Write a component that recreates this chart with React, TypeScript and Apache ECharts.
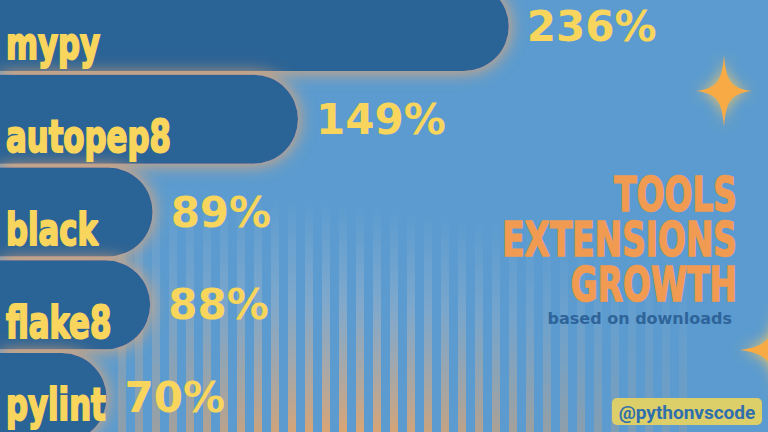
import React, { useEffect, useRef } from "react";
import * as echarts from "echarts";

const categories = ["mypy", "autopep8", "black", "flake8", "pylint"];
const growth = [236, 149, 89, 88, 70];
const titleLines = ["TOOLS", "EXTENSIONS", "GROWTH"];
const subtitle = "based on downloads";
const handle = "@pythonvscode";

const X_MIN = 26;
const X_MAX = 343;

const BG = "#5b9bcf";
const BAR = "#2b6496";
const YELLOW = "#f8d55c";
const ORANGE = "#f09a52";
const COND = "'DejaVu Sans Condensed', 'DejaVu Sans', sans-serif";

const STAR_D =
  "M0,-1 C0.08,-0.25 0.25,-0.08 1,0 C0.25,0.08 0.08,0.25 0,1 C-0.08,0.25 -0.25,0.08 -1,0 C-0.25,-0.08 -0.08,-0.25 0,-1 Z";

let registered = false;

export default function App() {
  const ref = useRef<HTMLDivElement>(null);
  useEffect(() => {
    if (!ref.current) return;
    if (!registered) {
      echarts.graphic.registerShape("sparkle", echarts.graphic.extendPath(STAR_D, {}));
      registered = true;
    }
    const chart = echarts.init(ref.current, null, { renderer: "svg" });

    const stripes: any[] = [];
    for (let x = 118; x < 690; x += 17) {
      const k = Math.exp(-Math.pow((x - 340) / 210, 2));
      const y0 = 175 + (x - 118) * 0.12;
      stripes.push({
        type: "rect",
        z: 0,
        silent: true,
        shape: { x, y: y0, width: 8, height: 432 - y0 },
        style: {
          fill: new echarts.graphic.LinearGradient(0, 0, 0, 1, [
            { offset: 0, color: "rgba(150,185,215,0)" },
            { offset: 0.45, color: `rgba(160,180,200,${0.45 * k + 0.1})` },
            { offset: 1, color: `rgba(226,165,110,${0.85 * k + 0.1})` },
          ]),
        },
      });
    }

    const titleGraphics = titleLines.map((t, i) => ({
      type: "text",
      z: 20,
      x: 737,
      y: 194 + i * 45,
      scaleX: 0.76,
      style: {
        text: t,
        fill: ORANGE,
        stroke: ORANGE,
        lineWidth: 1.5,
        font: `bold 48px ${COND}`,
        align: "right",
        verticalAlign: "middle",
        shadowColor: "rgba(0,0,0,0.2)",
        shadowBlur: 3,
      },
    }));

    chart.setOption({
      animation: false,
      backgroundColor: BG,
      grid: {
        left: 0,
        right: 0,
        top: -20,
        bottom: -12,
        containLabel: false,
        outerBoundsMode: "none",
      },
      xAxis: { type: "value", min: X_MIN, max: X_MAX, show: false },
      yAxis: {
        type: "category",
        data: categories,
        inverse: true,
        axisLine: { show: false },
        axisTick: { show: false },
        splitLine: { show: false },
        axisLabel: { show: false },
      },
      series: [
        {
          type: "bar",
          data: growth,
          barWidth: 89,
          z: 5,
          itemStyle: {
            color: BAR,
            borderRadius: [0, 45, 45, 0],
            shadowColor: "rgba(242,168,105,1)",
            shadowBlur: 18,
          },
          label: {
            show: true,
            position: "right",
            distance: 18,
            formatter: "{c}%",
            color: YELLOW,
            fontFamily: "'DejaVu Sans', sans-serif",
            fontWeight: "bold",
            fontSize: 42,
          },
        },
        {
          type: "custom",
          z: 10,
          silent: true,
          data: categories.map((c) => [X_MIN, c]),
          encode: { x: 0, y: 1 },
          renderItem: (params: any, api: any) => {
            const pt = api.coord([api.value(0), api.value(1)]);
            return {
              type: "text",
              x: pt[0] + 6,
              y: Math.min(pt[1] + 17, 404),
              scaleX: 0.76,
              style: {
                text: categories[params.dataIndex],
                fill: YELLOW,
                stroke: YELLOW,
                lineWidth: 2,
                font: `bold 45px ${COND}`,
                align: "left",
                verticalAlign: "middle",
                shadowColor: "rgba(0,0,0,0.4)",
                shadowBlur: 4,
                shadowOffsetY: 2,
              },
            };
          },
        },
      ],
      graphic: [
        ...stripes,
        ...titleGraphics,
        {
          type: "text",
          z: 20,
          x: 732,
          y: 318,
          style: {
            text: subtitle,
            fill: "#2e6499",
            font: "bold 16px 'DejaVu Sans', sans-serif",
            align: "right",
            verticalAlign: "middle",
          },
        },
        {
          type: "rect",
          z: 20,
          shape: { x: 612, y: 398, width: 150, height: 27, r: 5 },
          style: { fill: "#dccf6a" },
        },
        {
          type: "text",
          z: 21,
          x: 687,
          y: 412,
          style: {
            text: handle,
            fill: "#2f6fae",
            font: "bold 19px Roboto, sans-serif",
            align: "center",
            verticalAlign: "middle",
          },
        },
        {
          type: "sparkle",
          z: 15,
          x: 724,
          y: 91,
          scaleX: 28,
          scaleY: 36,
          style: { fill: "#f8ab45", shadowColor: "rgba(252,200,90,0.95)", shadowBlur: 14 },
        },
        {
          type: "sparkle",
          z: 15,
          x: 778,
          y: 350,
          scaleX: 38,
          scaleY: 48,
          style: { fill: "#f8ab45", shadowColor: "rgba(252,200,90,0.95)", shadowBlur: 14 },
        },
      ],
    });
    return () => chart.dispose();
  }, []);
  return (
    <div
      ref={ref}
      style={{ position: "fixed", left: 0, top: 0, width: 768, height: 432 }}
    />
  );
}
